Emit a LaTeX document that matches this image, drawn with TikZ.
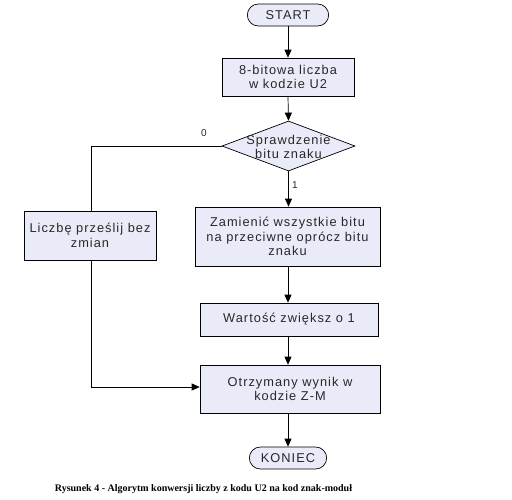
\documentclass[tikz,border=0pt]{standalone}
\usepackage{fontspec}
\setmainfont{Liberation Sans}[LetterSpace=8]
\newfontfamily\capfont{Liberation Serif}
\usetikzlibrary{shapes.geometric,shapes.misc,arrows.meta}
\definecolor{boxfill}{RGB}{234,235,248}
\definecolor{txt}{RGB}{40,40,40}
\tikzset{
  every node/.style={font=\fontsize{12.8}{14.5}\selectfont, text=txt},
  procbox/.style={draw=black, fill=boxfill, rectangle, align=center, inner sep=2pt, line width=0.7pt},
  termbox/.style={draw=black, fill=boxfill, rounded rectangle, align=center, line width=0.7pt},
  decbox/.style={draw=black, fill=boxfill, diamond, aspect=2.66, inner sep=0pt, line width=0.7pt},
  conn/.style={line width=0.7pt, -{Triangle[length=8pt,width=7pt]}},
  plainconn/.style={line width=0.7pt},
  lbl/.style={font=\fontsize{10}{12}\selectfont},
}
\begin{document}
\begin{tikzpicture}[x=1pt,y=-1pt]
\useasboundingbox (0,0) rectangle (512,499);
\node[termbox, minimum width=88pt, minimum height=22pt] (start) at (288,15) {START};
\node[procbox, minimum width=132pt, minimum height=38pt] (b1) at (288,77) {8-bitowa liczba\\w kodzie U2};
\node[decbox, minimum width=133pt, minimum height=50pt] (dec) at (288.5,146) {};
\node[align=center] (dectext) at (288.5,147) {Sprawdzenie\\bitu znaku};
\node[procbox, minimum width=132pt, minimum height=49pt] (left) at (90,235.5) {Liczbę prześlij bez\\zmian};
\node[procbox, minimum width=185pt, minimum height=59pt] (zam) at (287.5,236.5) {Zamienić wszystkie bitu\\na przeciwne oprócz bitu\\znaku};
\node[procbox, minimum width=178pt, minimum height=33pt] (war) at (289,319.5) {Wartość zwiększ o 1};
\node[procbox, minimum width=180pt, minimum height=48pt] (otr) at (290,389) {Otrzymany wynik w\\kodzie Z-M};
\node[termbox, minimum width=84pt, minimum height=22pt] (kon) at (288,458) {KONIEC};
\coordinate (ax) at (288,0);
\coordinate (c1) at (91,146);
\coordinate (c2) at (91,387);
\draw[conn] (start.south) -- (b1.north);
\draw[conn] (b1.south) -- (dec.north);
\draw[conn] (dec.south) -- node[right, pos=0.4, lbl] {1} (dec.south |- zam.north);
\draw[conn] (zam.south -| ax) -- (war.north -| ax);
\draw[conn] (war.south -| ax) -- (otr.north -| ax);
\draw[conn] (otr.south -| ax) -- (kon.north);
\draw[plainconn] (dec.west) -- (c1) -- (left.north -| c1);
\draw[conn] (left.south -| c2) -- (c2) -- (otr.west |- c2);
\node[lbl] (zero) at (204,133) {0};
\node[font=\capfont\bfseries\fontsize{10}{11}\selectfont, text=black] (cap) at (203.5,489) {Rysunek 4 - Algorytm konwersji liczby z kodu U2 na kod znak-moduł};
\end{tikzpicture}
\end{document}
